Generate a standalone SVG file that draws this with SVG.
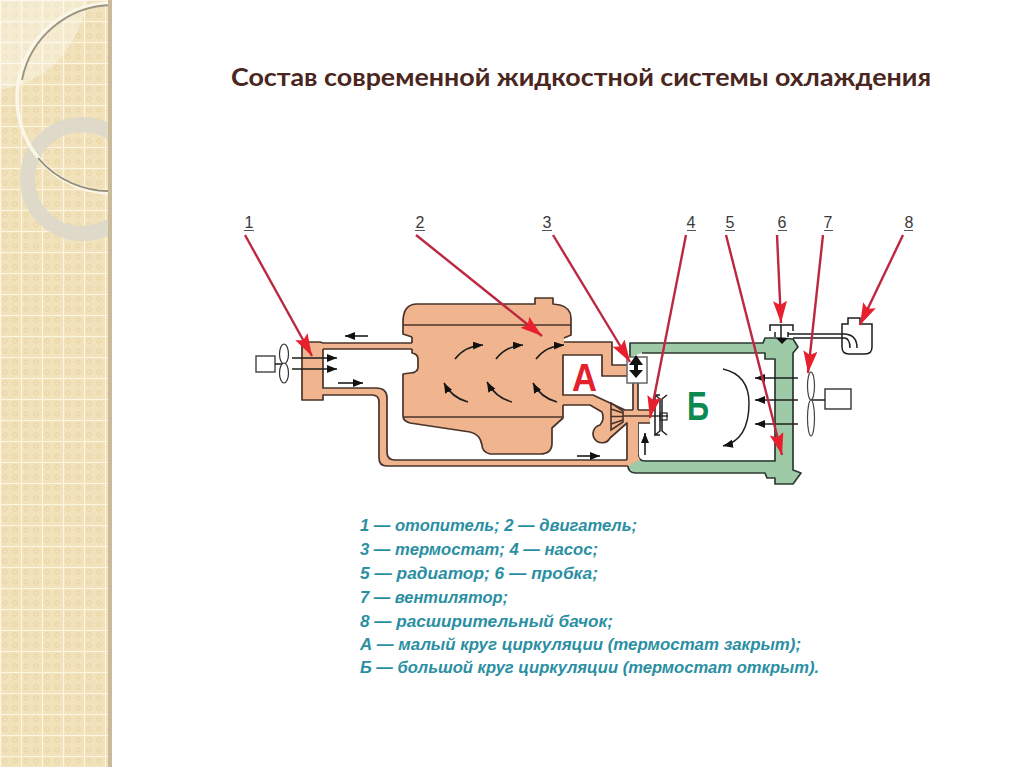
<svg xmlns="http://www.w3.org/2000/svg" width="1024" height="767" viewBox="0 0 1024 767">
<defs>
<style>
.o{fill:#f0b48f}
.g{fill:#9fcaa8}
.l{fill:none;stroke:#4a3329;stroke-width:1.7;stroke-linejoin:round}
.k{fill:none;stroke:#1c1c1c;stroke-width:1.5}
.gl{fill:none;stroke:#2c3a30;stroke-width:1.7;stroke-linejoin:round}
.n{font-family:"Liberation Sans",Arial,sans-serif;font-size:16px;fill:#3a3a3a;text-anchor:middle}
.u{stroke:#555;stroke-width:1}
.r{fill:none;stroke:#bd2840;stroke-width:2.4;marker-end:url(#red)}
.a{fill:none;stroke:#1c1c1c;stroke-width:1.6;marker-end:url(#blk)}
.c{fill:none;stroke:#222;stroke-width:1.5;marker-end:url(#blk)}
.t{font-family:"Liberation Sans",Arial,sans-serif;font-size:17px;font-weight:bold;font-style:italic;fill:#2b8fa3}
</style>
<marker id="blk" markerUnits="userSpaceOnUse" markerWidth="12" markerHeight="10" refX="10" refY="4" orient="auto"><path d="M0,0 L10,4 L0,8 Z" fill="#111"/></marker>
<marker id="red" markerUnits="userSpaceOnUse" markerWidth="24" markerHeight="16" refX="22" refY="7" orient="auto"><path d="M0,0 L22,7 L0,14 L4,7 Z" fill="#e81f2d"/></marker>
<pattern id="tile" width="21" height="21" patternUnits="userSpaceOnUse"><rect width="21" height="21" fill="#f1e2bb"/><circle cx="5" cy="5" r="2.2" fill="none" stroke="#e6cf9b" stroke-width=".8"/><circle cx="15" cy="5" r="2.2" fill="none" stroke="#e6cf9b" stroke-width=".8"/><circle cx="5" cy="15" r="2.2" fill="none" stroke="#e6cf9b" stroke-width=".8"/><circle cx="15" cy="15" r="2.2" fill="none" stroke="#e6cf9b" stroke-width=".8"/><path d="M0,.5H21M.5,0V21" stroke="#fbf5e2" stroke-width="1.2"/></pattern>
<clipPath id="band"><rect width="112" height="767"/></clipPath>
</defs>
<rect width="1024" height="767" fill="#ffffff"/>
<g id="background" clip-path="url(#band)">
<rect width="112" height="767" fill="url(#tile)"/>
<path d="M0,90 Q70,78 88,0 L0,0 Z" fill="#ffffff" opacity=".35"/>
<circle cx="82" cy="179" r="54.5" fill="none" stroke="#dcd8cb" stroke-width="15" opacity=".9"/>
<circle cx="112" cy="98" r="95" fill="none" stroke="#fbf7e8" stroke-width="3.5"/>
<path d="M112,5 A93,93 0 0 0 22,80" fill="none" stroke="#9c9483" stroke-width="1.8"/>
<path d="M38,158 A93,93 0 0 0 112,191" fill="none" stroke="#8f8877" stroke-width="1.8"/>
<rect x="108" width="4" height="767" fill="#c9bb9a"/>
</g>
<text id="title" x="231" y="86" font-family="Lato,'Open Sans',sans-serif" font-size="25" font-weight="700" fill="#4a2620" textLength="700" lengthAdjust="spacingAndGlyphs">Состав современной жидкостной системы охлаждения</text>

<g id="radiator">
<path class="g" d="M630,343 L763,343 L765,338 L780,338 L793,339 L798,347 L793,353 L793,470 L801,473 L793,484 L775,484 L775,478 L767,478 L765,473 L635,473 L628,468 L628,463 L640,460 L775,460 L775,359 L765,359 L765,353 L642,353 L630,357 Z"/>
<path class="gl" d="M630,357 L630,343 L763,343 L765,338 L780,338 L793,339 L798,347 L793,353 L793,470 L801,473 L793,484 L775,484 L775,478 L767,478 L765,473 L635,473 Q628,472 628,466"/>
<path class="gl" d="M642,353 L765,353 L765,359 L775,359 L775,461 L645,461 Q638,461 638,454 L638,423"/>
</g>

<g id="heater">
<path class="o" d="M302,342 L323,342 L323,343 L414,343 L414,349 L323,349 L323,388 L376,388 Q387,388 387,398 L387,452 Q387,460 395,460 L630,460 L630,466 L387,466 Q379,466 379,458 L379,402 Q379,395 372,395 L323,395 L323,400 L302,400 Z"/>
<path class="l" d="M323,343 L320,342 L302,342 L302,400 L323,400 L323,395 L372,395 Q379,395 379,402 L379,458 Q379,466 387,466 L628,466"/>
<path class="l" d="M323,343 L412,343 M323,349 L412,349 M323,349 L323,388 L376,388 Q387,388 387,398 L387,452 Q387,460 395,460 L627,460"/>
</g>

<g id="engine">
<path class="o" d="M403,322 Q403,304 417,304 L535,304 L535,298 L553,298 L553,304 L560,305 Q571,308 571,318 L571,335 L564,338 L564,342 L612,342 L612,365 L627,365 L627,376 L602,376 L602,355 L563,355 L563,395 L593,395 L625,410 L650,410 L650,423 L638,423 L638,456 L640,460 L628,465 L627,423 L610,438 A9,9 0 1 1 600,425 Q605,419 602,412 L590,405 L563,405 L563,418 L552,428 L552,443 Q552,454 540,454 L490,454 Q482,452 482,445 Q480,434 470,432 L410,423 Q403,421 403,416 L403,374 L417,373 Q418,358 417,358 L412,350 L412,337 L403,334 Z"/>
<path class="l" d="M412,337 L403,334 L403,322 Q403,304 417,304 L535,304 L535,298 L553,298 L553,304 L560,305 Q571,308 571,318 L571,335 L564,338"/>
<path class="l" d="M412,337 L412,343 M412,349 L412,353 Q418,354 418,359 L418,367 Q418,373 410,373 L403,374 L403,416 Q403,421 410,423 L470,432 Q480,434 482,445 Q482,452 490,454 L540,454 Q552,454 552,443 L552,428 L563,418 L563,405"/>
<path class="l" d="M403,325 L571,325 M403,417 L563,417"/>
<path class="l" d="M564,342 L612,342 L612,365 L627,365 M627,376 L602,376 L602,355 L563,355 L563,395 L593,395 L625,410 L633,410"/>
<path class="l" d="M563,405 L590,405 L602,412 Q605,419 600,425 A9,9 0 1 0 610,438 L627,423 L627,460"/>
<path class="a" d="M455,359 Q465,346 483,345"/><path class="a" d="M496,359 Q506,346 523,345"/><path class="a" d="M536,359 Q546,346 564,345"/>
<path class="a" d="M468,402 Q452,398 444,383"/><path class="a" d="M512,402 Q496,398 487,382"/><path class="a" d="M557,402 Q541,398 533,383"/>
</g>

<g id="fan-left">
<rect x="256" y="356" width="19" height="16" fill="#fff" stroke="#333" stroke-width="1.3"/>
<path d="M275,364 H284" class="k"/>
<ellipse cx="284" cy="354" rx="4.500" ry="10" fill="#fff" stroke="#333" stroke-width="1.2"/>
<ellipse cx="284" cy="373" rx="4.500" ry="10" fill="#fff" stroke="#333" stroke-width="1.2"/>
<path class="a" d="M292,358 H337"/><path class="a" d="M292,369 H337"/>
<path class="a" d="M368,336 H345"/><path class="a" d="M338,383 H363"/>
</g>

<g id="thermostat">
<path class="o" d="M633,383 H638 V411 H633 Z"/>
<path class="l" d="M633,383 V410 M638,383 V410"/>
<rect x="627" y="357" width="20" height="26" fill="#fff" stroke="#666" stroke-width="1.5"/>
<path d="M636,355 L643,365 L638,365 L638,370 L643,370 L636,378 L629,370 L634,370 L634,365 L629,365 Z" fill="#111"/>
</g>

<g id="pump">
<path d="M611,403 L623,411 L623,422 L611,430 Z" fill="#f0b48f" stroke="#4a3329" stroke-width="1.6"/>
<path d="M611,409 L623,413 M611,416.500 H623 M611,424 L623,420" class="l"/>
<path class="l" d="M638,410 L650,410 M638,423 L650,423 M623,416 H668"/>
<path class="k" d="M655,395 L660,399 L660,431 L655,435 Z M667,395 L662,399 L662,431 L667,435 M655,395 H660 M655,435 H660"/>
<rect x="660" y="413" width="7" height="7" fill="none" stroke="#222" stroke-width="1.2"/>
<path class="a" d="M645,455 V433"/>
<path class="a" d="M577,456 H600"/>
</g>

<g id="fan-right">
<rect x="825" y="389" width="26" height="20" fill="#fff" stroke="#333" stroke-width="1.4"/>
<path class="k" d="M811,400 H825"/>
<ellipse cx="811" cy="386" rx="3.500" ry="14" fill="#fff" stroke="#444" stroke-width="1.2"/>
<ellipse cx="811" cy="418" rx="3.500" ry="18" fill="#fff" stroke="#444" stroke-width="1.2"/>
<path class="a" d="M798,378 H755"/><path class="a" d="M798,400 H755"/><path class="a" d="M798,424 H755"/>
<path class="c" d="M723,369 Q749,375 749,403 Q749,440 723,446"/>
</g>

<g id="cap">
<path class="k" d="M770,331 V325 H793 V331 M775,332 V337 M788,332 V337 M781,325 V338"/>
<path d="M776,338 H788 L782,344 Z" fill="#111"/>
</g>

<g id="tank">
<path class="k" d="M842,324 H848 V318 H860 V324 H872 V347 Q872,354 865,354 H849 Q842,354 842,347 Z"/>
<path class="k" d="M788,334 H845 Q857,335 857,348 M793,338 H845 Q850,339 850,348"/>
</g>

<text id="label-a" x="572" y="391" font-family="'Liberation Sans',Arial,sans-serif" font-size="39" font-weight="bold" fill="#e4202c" textLength="25" lengthAdjust="spacingAndGlyphs">А</text>
<text id="label-b" x="687" y="420" font-family="'Liberation Sans',Arial,sans-serif" font-size="40" font-weight="bold" fill="#0e8a50" textLength="22" lengthAdjust="spacingAndGlyphs">Б</text>

<g id="connectors">
<path class="r" d="M245,235 L312,356"/>
<path class="r" d="M416,235 L542,336"/>
<path class="r" d="M553,235 L630,362"/>
<path class="r" d="M686,235 L650,418"/>
<path class="r" d="M726,235 L782,455"/>
<path class="r" d="M777,235 L781,323"/>
<path class="r" d="M823,235 L808,373"/>
<path class="r" d="M903,235 L860,325"/>
</g>

<g id="numbers">
<text class="n" x="249" y="228">1</text><path class="u" d="M244,230.500H254"/>
<text class="n" x="420" y="228">2</text><path class="u" d="M415,230.500H425"/>
<text class="n" x="547" y="228">3</text><path class="u" d="M542,230.500H552"/>
<text class="n" x="691" y="228">4</text><path class="u" d="M687,230.500H696"/>
<text class="n" x="730" y="228">5</text><path class="u" d="M725,230.500H735"/>
<text class="n" x="782" y="228">6</text><path class="u" d="M778,230.500H787"/>
<text class="n" x="828" y="228">7</text><path class="u" d="M824,230.500H833"/>
<text class="n" x="909" y="228">8</text><path class="u" d="M904,230.500H913"/>
</g>

<g id="legend">
<text class="t" x="360" y="531" textLength="277" lengthAdjust="spacingAndGlyphs">1 — отопитель; 2 — двигатель;</text>
<text class="t" x="360" y="555" textLength="238" lengthAdjust="spacingAndGlyphs">3 — термостат; 4 — насос;</text>
<text class="t" x="360" y="579" textLength="238" lengthAdjust="spacingAndGlyphs">5 — радиатор; 6 — пробка;</text>
<text class="t" x="360" y="603" textLength="148" lengthAdjust="spacingAndGlyphs">7 — вентилятор;</text>
<text class="t" x="360" y="627" textLength="253" lengthAdjust="spacingAndGlyphs">8 — расширительный бачок;</text>
<text class="t" x="360" y="650" textLength="441" lengthAdjust="spacingAndGlyphs">А — малый круг циркуляции (термостат закрыт);</text>
<text class="t" x="360" y="673" textLength="459" lengthAdjust="spacingAndGlyphs">Б — большой круг циркуляции (термостат открыт).</text>
</g>
</svg>
